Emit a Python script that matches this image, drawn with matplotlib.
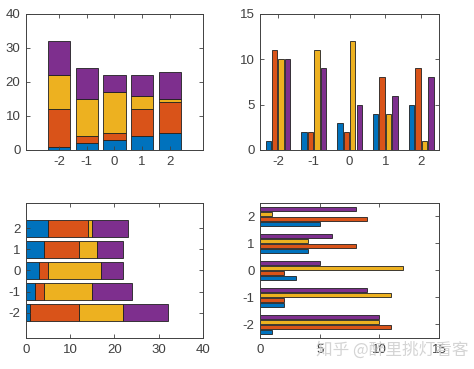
import numpy as np
import matplotlib.pyplot as plt

plt.rcParams['font.family'] = ['Liberation Sans', 'Noto Sans CJK SC']
plt.rcParams['axes.unicode_minus'] = False

# data
x = [-2, -1, 0, 1, 2]
s1 = [1, 2, 3, 4, 5]
s2 = [11, 2, 2, 8, 9]
s3 = [10, 11, 12, 4, 1]
s4 = [10, 9, 5, 6, 8]
series = [s1, s2, s3, s4]
colors = ['#0072BD', '#D95319', '#EDB120', '#7E2F8E']

fig = plt.figure(figsize=(4.74, 3.69), dpi=100)
ax1 = fig.add_axes([0.055, 0.5935, 0.373, 0.3686])
ax2 = fig.add_axes([0.5485, 0.5935, 0.378, 0.3686])
ax3 = fig.add_axes([0.055, 0.084, 0.373, 0.366])
ax4 = fig.add_axes([0.5485, 0.084, 0.378, 0.366])

xa = np.array(x, dtype=float)
edge = dict(edgecolor='#202020', linewidth=0.6)

# stacked vertical
bottom = np.zeros(len(x))
for s, c in zip(series, colors):
    ax1.bar(xa, s, 0.8, bottom=bottom, color=c, **edge)
    bottom += np.array(s)
ax1.set_xlim(-3.2, 3.2)
ax1.set_ylim(0, 40)
ax1.set_yticks([0, 10, 20, 30, 40])
ax1.set_xticks(x)

# grouped vertical
offs = [-0.27, -0.09, 0.09, 0.27]
for s, c, o in zip(series, colors, offs):
    ax2.bar(xa + o, s, 0.15, color=c, **edge)
ax2.set_xlim(-2.5, 2.5)
ax2.set_ylim(0, 15)
ax2.set_yticks([0, 5, 10, 15])
ax2.set_xticks(x)

# stacked horizontal
left = np.zeros(len(x))
for s, c in zip(series, colors):
    ax3.barh(xa, s, 0.8, left=left, color=c, **edge)
    left += np.array(s)
ax3.set_ylim(-3.2, 3.2)
ax3.set_xlim(0, 40)
ax3.set_xticks([0, 10, 20, 30, 40])
ax3.set_yticks(x)

# grouped horizontal
for s, c, o in zip(series, colors, offs):
    ax4.barh(xa + o, s, 0.15, color=c, **edge)
ax4.set_ylim(-2.5, 2.5)
ax4.set_xlim(0, 15)
ax4.set_xticks([0, 5, 10, 15])
ax4.set_yticks(x)

for ax in [ax1, ax2, ax3, ax4]:
    ax.tick_params(direction='in', top=True, right=True, labelsize=9.5,
                   colors='#404040', length=3, width=0.6, pad=4)
    for sp in ax.spines.values():
        sp.set_color('#404040')
        sp.set_linewidth(0.7)

# watermark
fig.text(0.828, 0.052, '知乎 @醉里挑灯看客', ha='center', va='center', fontsize=12,
         color='#d0d0d0', alpha=0.9, family=['Noto Sans CJK SC', 'Liberation Sans'])

fig.savefig('out.png', dpi=100)
